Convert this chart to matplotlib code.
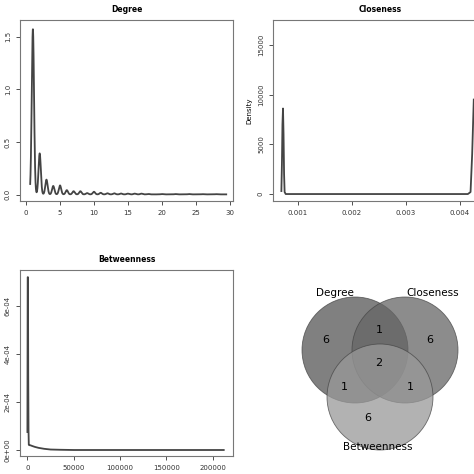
import numpy as np
import matplotlib.pyplot as plt
from matplotlib.patches import Circle

# Degree density: peak positions and heights
deg_peaks = [1, 2, 3, 4, 5, 6, 7, 8, 9, 10, 11, 12, 13, 14, 15, 16, 17, 18, 20, 22, 24, 26, 28]
deg_heights = [1.57, 0.39, 0.14, 0.08, 0.085, 0.04, 0.03, 0.03, 0.012, 0.025, 0.015, 0.01, 0.01,
               0.008, 0.007, 0.007, 0.007, 0.004, 0.003, 0.003, 0.003, 0.002, 0.002]
# Closeness density: curve points
clo_x = [0.00070, 0.00071, 0.00072, 0.00073, 0.00074, 0.00075, 0.00076, 0.00078, 0.0040, 0.00415, 0.00420, 0.00423, 0.00426]
clo_y = [300, 3000, 7000, 8600, 6000, 2000, 200, 0, 0, 0, 200, 4000, 9500]
# Betweenness density: curve points
bet_x = [0, 300, 600, 900, 1200, 1500, 2000, 3000, 5000, 8000, 12000, 18000, 25000, 35000, 50000, 100000, 212000]
bet_y = [7.5e-5, 7.2e-4, 7.2e-4, 3e-4, 8e-5, 2.2e-5, 2.0e-5, 2.0e-5, 1.7e-5, 1.3e-5, 9e-6, 5e-6, 2e-6, 1e-6, 0, 0, 0]
# Venn counts
venn_labels = ["Degree", "Closeness", "Betweenness"]
venn_only = [6, 6, 6]
venn_pairs = [1, 1, 1]  # D&C, D&B, C&B
venn_all = 2

W = 474
fig = plt.figure(figsize=(4.74, 4.74), dpi=100)

def ax_at(x0, y0, x1, y1):
    return fig.add_axes([x0 / W, 1 - y1 / W, (x1 - x0) / W, (y1 - y0) / W])

def style(ax, title):
    for s in ax.spines.values():
        s.set_color('#777777'); s.set_linewidth(0.8)
    ax.tick_params(labelsize=5, colors='#333333', length=3, width=0.6)
    for lab in ax.get_yticklabels():
        lab.set_rotation(90); lab.set_va('center')
    ax.set_title(title, fontsize=5.5, fontweight='bold', pad=6)

# Degree
ax1 = ax_at(20, 20, 233, 201)
xs = np.linspace(0.6, 29.5, 3000)
ys = np.zeros_like(xs)
for p, h in zip(deg_peaks, deg_heights):
    ys += h * np.exp(-0.5 * ((xs - p) / 0.17) ** 2)
ax1.plot(xs, ys + 0.003, color='#444444', lw=1.3)
ax1.set_xlim(-0.9, 30.5); ax1.set_ylim(-0.06, 1.66)
ax1.set_xticks([0, 5, 10, 15, 20, 25, 30]); ax1.set_yticks([0, 0.5, 1.0, 1.5])
ax1.set_yticklabels(['0.0', '0.5', '1.0', '1.5'])
style(ax1, 'Degree')

# Closeness
ax2 = ax_at(273, 20, 490, 201)
ax2.plot(clo_x, clo_y, color='#444444', lw=1.3)
ax2.set_xlim(0.000545, 0.00456); ax2.set_ylim(-700, 17500)
ax2.set_xticks([0.001, 0.002, 0.003, 0.004]); ax2.set_yticks([0, 5000, 10000, 15000])
ax2.set_ylabel('Density', fontsize=5)
style(ax2, 'Closeness')
ax2.set_title('Closeness', fontsize=5.5, fontweight='bold', pad=6, x=(380 - 273) / 217)

# Betweenness
ax3 = ax_at(20, 270, 233, 456)
ax3.plot(bet_x, bet_y, color='#444444', lw=1.3)
ax3.set_xlim(-8000, 222000); ax3.set_ylim(-2.5e-5, 7.5e-4)
ax3.set_xticks([0, 50000, 100000, 150000, 200000]); ax3.set_yticks([0, 2e-4, 4e-4, 6e-4])
ax3.set_yticklabels(['0e+00', '2e-04', '4e-04', '6e-04'])
style(ax3, 'Betweenness')

# Venn
ax4 = fig.add_axes([0, 0, 1, 1]); ax4.set_xlim(0, W); ax4.set_ylim(W, 0); ax4.axis('off')
centers = [(355, 350), (405, 350), (380, 397)]
r = 53
cols = ['#555555', '#666666', '#999999']
for (cx, cy), c in zip(centers, cols):
    ax4.add_patch(Circle((cx, cy), r, facecolor=c, alpha=0.75, edgecolor='#444444', lw=0.6))
ax4.text(335, 298, venn_labels[0], fontsize=7.5, ha='center', va='bottom')
ax4.text(433, 298, venn_labels[1], fontsize=7.5, ha='center', va='bottom')
ax4.text(378, 452, venn_labels[2], fontsize=7.5, ha='center', va='bottom')
for (x, y), v in zip([(326, 340), (430, 340), (368, 418)], venn_only):
    ax4.text(x, y, str(v), fontsize=8, ha='center', va='center')
for (x, y), v in zip([(379, 330), (344, 387), (410, 387)], venn_pairs):
    ax4.text(x, y, str(v), fontsize=8, ha='center', va='center')
ax4.text(379, 363, str(venn_all), fontsize=8, ha='center', va='center')

fig.savefig('out.png', dpi=100)
